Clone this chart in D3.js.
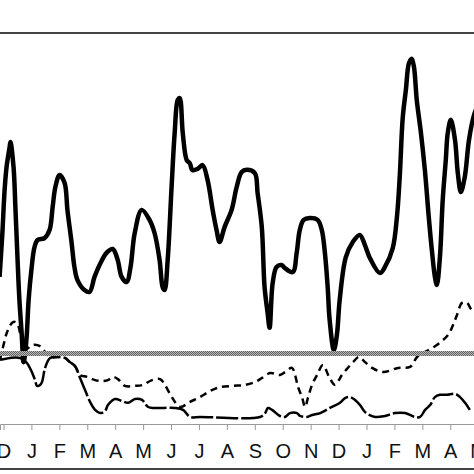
<!DOCTYPE html>
<html>
<head>
<meta charset="utf-8">
<script src="https://cdnjs.cloudflare.com/ajax/libs/d3/7.8.5/d3.min.js"></script>
<style>
  body { margin: 0; background: #fff; }
</style>
</head>
<body>
<div id="chart-area"></div>
<script>
// DATA (months from first December)

let monthLabels = ["D", "J", "F", "M", "A", "M", "J", "J", "A", "S", "O", "N", "D", "J", "F", "M", "A", "M"]

let mainT = [-0.14, -0.04, 0.04, 0.11, 0.22, 0.25, 0.36, 0.43, 0.50, 0.57, 0.65, 0.72, 0.82, 0.90, 1.00, 1.11, 1.22, 1.47, 1.65, 1.76,
  1.86, 2.01, 2.19, 2.29, 2.44, 2.54, 2.65, 2.90, 3.08, 3.26, 3.44, 3.69, 3.91, 4.09, 4.23, 4.41, 4.55, 4.70, 4.95, 5.23,
  5.41, 5.59, 5.70, 5.77, 5.88, 6.02, 6.13, 6.24, 6.31, 6.42, 6.56, 6.67, 6.77, 6.95, 7.13, 7.31, 7.49, 7.63, 7.74, 7.92,
  8.17, 8.35, 8.53, 8.71, 9.00, 9.10, 9.25, 9.35, 9.46, 9.53, 9.64, 9.78, 9.96, 10.07, 10.36, 10.50, 10.61, 10.75, 10.97, 11.25,
  11.40, 11.51, 11.61, 11.68, 11.83, 11.94, 12.04, 12.26, 12.51, 12.76, 12.94, 13.12, 13.48, 13.66, 13.94, 14.09, 14.19, 14.30, 14.41, 14.52,
  14.62, 14.70, 14.80, 14.95, 15.09, 15.23, 15.34, 15.45, 15.52, 15.63, 15.73, 15.84, 15.91, 16.02, 16.17, 16.27, 16.38, 16.52, 16.67, 16.85, 16.99]
let mainV = [23.9, 37.6, 51.0, 58.2, 64.4, 66.0, 58.2, 44.8, 30.1, 16.7, 6.4, -2.7, 4.2, 16.7, 26.1, 33.2, 35.4, 36.0, 38.5, 45.7,
  52.0, 55.7, 53.2, 44.8, 34.5, 27.0, 22.9, 19.8, 19.2, 23.9, 27.6, 31.4, 32.6, 29.2, 23.9, 22.3, 27.0, 37.6, 44.8, 41.7,
  37.6, 29.2, 20.7, 19.8, 29.2, 52.0, 68.8, 79.1, 79.7, 68.8, 60.4, 59.4, 57.2, 57.6, 58.8, 54.1, 44.8, 38.5, 34.8, 39.5,
  44.8, 51.9, 56.6, 57.3, 56.3, 50.1, 39.5, 20.7, 12.6, 8.0, 22.0, 27.0, 27.6, 26.7, 25.4, 31.4, 38.5, 41.7, 42.3, 41.7,
  38.5, 31.4, 20.7, 10.5, 1.1, 5.8, 16.7, 30.1, 34.8, 37.0, 33.9, 29.8, 25.1, 27.0, 32.9, 42.6, 55.1, 73.8, 82.2, 90.6,
  92.0, 89.4, 79.1, 68.8, 57.3, 42.6, 32.3, 23.9, 21.4, 30.1, 47.9, 60.4, 68.8, 72.9, 66.6, 56.3, 50.4, 55.1, 66.6, 74.4, 77.5]

let dashT = [-0.125, 0.02, 0.13, 0.34, 0.48, 0.63, 0.73, 0.88, 1.06, 1.31, 1.49, 1.67, 1.95, 2.20, 2.38, 2.56, 2.74, 2.99, 3.28, 3.53,
  3.74, 3.92, 4.10, 4.35, 4.71, 4.99, 5.32, 5.61, 5.78, 6.03, 6.32, 6.68, 7.04, 7.40, 7.75, 8.22, 8.65, 9.01, 9.26, 9.55,
  9.90, 10.08, 10.33, 10.44, 10.55, 10.69, 10.80, 10.91, 11.05, 11.23, 11.44, 11.66, 11.87, 12.12, 12.30, 12.52, 12.73, 12.95, 13.20, 13.59,
  14.13, 14.56, 14.81, 15.10, 15.53, 15.92, 16.10, 16.24, 16.42, 16.60, 16.78, 16.99]
let dashV = [-2.0, 3.3, 6.7, 9.8, 9.5, 4.8, 1.1, 1.7, 2.7, 2.3, 0.5, -1.1, -1.1, -1.4, -2.7, -3.9, -6.7, -7.3, -8.3, -8.6,
  -8.3, -7.3, -8.0, -10.1, -10.1, -9.8, -8.3, -8.0, -9.8, -13.6, -16.7, -15.1, -13.6, -11.7, -10.5, -10.1, -9.8, -8.9, -7.6, -6.1,
  -6.7, -5.8, -4.5, -6.7, -10.5, -13.6, -16.7, -13.6, -9.8, -6.7, -3.6, -7.3, -9.8, -6.7, -4.8, -2.7, -1.1, -2.7, -4.5, -5.8,
  -4.5, -4.2, -1.1, 0.5, 2.7, 5.8, 8.9, 12.0, 15.8, 15.8, 13.6, 14.2]

let longT = [-0.125, 0.23, 0.59, 0.81, 0.98, 1.13, 1.20, 1.31, 1.38, 1.49, 1.67, 1.95, 2.20, 2.38, 2.56, 2.74, 2.92, 3.10, 3.28, 3.46,
  3.64, 3.74, 3.99, 4.24, 4.46, 4.71, 4.96, 5.18, 5.43, 6.14, 6.43, 6.68, 7.04, 9.19, 9.37, 9.47, 9.62, 9.90, 10.08, 10.26,
  10.51, 10.62, 10.87, 11.05, 11.34, 11.69, 12.05, 12.23, 12.41, 12.59, 12.77, 12.95, 13.31, 13.66, 14.02, 14.38, 14.74, 14.92, 15.10, 15.28,
  15.45, 15.63, 15.88, 16.17, 16.35, 16.53, 16.70]
let longV = [-2.0, -1.4, -1.4, -2.7, -5.1, -8.3, -10.1, -9.8, -8.9, -4.5, -1.4, -1.1, -1.4, -2.7, -3.9, -7.6, -11.4, -15.1, -17.6, -18.6,
  -17.9, -16.1, -14.2, -14.8, -15.4, -14.2, -14.5, -16.7, -17.0, -17.0, -17.6, -19.8, -19.8, -19.8, -18.6, -17.0, -17.6, -19.5, -19.8, -18.6,
  -18.6, -19.5, -19.8, -19.2, -18.6, -17.0, -15.4, -13.9, -13.6, -14.5, -16.1, -18.3, -19.8, -19.5, -18.6, -18.6, -19.8, -19.8, -17.6, -16.1,
  -13.6, -12.9, -12.9, -12.6, -13.6, -15.4, -17.6]

// SVG

let width = 474
let height = 474

let svg = d3.select("#chart-area").append("svg")
            .attr("width", width)
            .attr("height", height)

let x = d3.scaleLinear()
          .domain([-0.125, 16.85])
          .range([0, width])

let y = d3.scaleLinear()
          .domain([-22, 100])
          .range([424, 33])

// checkered pattern for the zero band
let pat = svg.append("defs").append("pattern")
             .attr("id", "checker")
             .attr("width", 2)
             .attr("height", 2)
             .attr("patternUnits", "userSpaceOnUse")
pat.append("rect").attr("width", 2).attr("height", 2).attr("fill", "#bdbdbd")
pat.append("rect").attr("width", 1).attr("height", 1).attr("fill", "#5e5e5e")
pat.append("rect").attr("x", 1).attr("y", 1).attr("width", 1).attr("height", 1).attr("fill", "#5e5e5e")

// frame lines top and bottom
svg.append("line")
   .attr("x1", 0).attr("x2", width)
   .attr("y1", 33).attr("y2", 33)
   .attr("stroke", "#444")
   .attr("stroke-width", 2)

svg.append("line")
   .attr("x1", 0).attr("x2", width)
   .attr("y1", 469).attr("y2", 469)
   .attr("stroke", "#444")
   .attr("stroke-width", 2)

// x axis
let xAxis = d3.axisBottom(x)
              .tickValues(d3.range(monthLabels.length))
              .tickFormat(i => monthLabels[i])
              .tickSize(6)
              .tickPadding(14)

let gx = svg.append("g")
            .attr("transform", "translate(0," + y(-22) + ")")
            .call(xAxis)
gx.select(".domain").attr("stroke", "#999").attr("stroke-width", 1)
gx.selectAll(".tick line").attr("stroke", "#999")
gx.selectAll(".tick text")
  .attr("font-family", "'Liberation Sans', Arial, sans-serif")
  .attr("font-size", 20)
  .attr("fill", "#111")

// lines
let line = d3.line()
             .x(d => x(d[0]))
             .y(d => y(d[1]))
             .curve(d3.curveCatmullRom.alpha(0.5))

svg.append("path")
   .attr("d", line(d3.zip(longT, longV)))
   .attr("fill", "none")
   .attr("stroke", "#000")
   .attr("stroke-width", 2.5)
   .attr("stroke-dasharray", "22,3")

svg.append("path")
   .attr("d", line(d3.zip(dashT, dashV)))
   .attr("fill", "none")
   .attr("stroke", "#000")
   .attr("stroke-width", 2.5)
   .attr("stroke-dasharray", "7,5")

svg.append("path")
   .attr("d", line(d3.zip(mainT, mainV)))
   .attr("fill", "none")
   .attr("stroke", "#000")
   .attr("stroke-width", 4.5)
   .attr("stroke-linejoin", "round")

// zero band
svg.append("rect")
   .attr("x", 0)
   .attr("y", y(0) - 2.5)
   .attr("width", width)
   .attr("height", 5)
   .attr("fill", "url(#checker)")
</script>
</body>
</html>
